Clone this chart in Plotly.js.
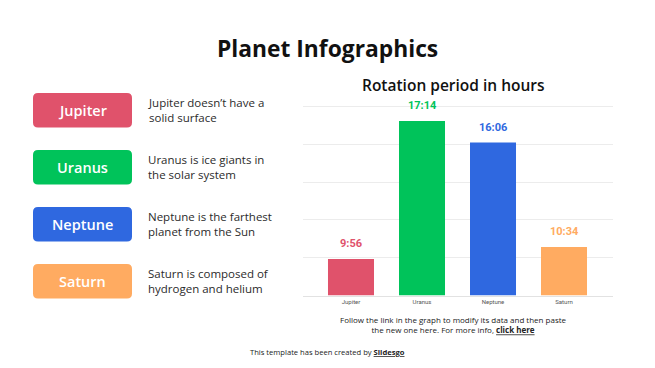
<!DOCTYPE html>
<html>
<head>
<meta charset="utf-8">
<script src="https://cdn.plot.ly/plotly-3.0.1.min.js"></script>
<style>html,body{margin:0;padding:0;background:#fff;}#chart{width:655px;height:368px;}</style>
</head>
<body>
<div id="chart"></div>
<script>
// ---- data ----
const planets = ["Jupiter", "Uranus", "Neptune", "Saturn"];
const rotationHours = [9 + 56/60, 17 + 14/60, 16 + 6/60, 10 + 34/60];
const rotationLabels = ["9:56", "17:14", "16:06", "10:34"];
const descriptions = [
  "Jupiter doesn’t have a<br>solid surface",
  "Uranus is ice giants in<br>the solar system",
  "Neptune is the farthest<br>planet from the Sun",
  "Saturn is composed of<br>hydrogen and helium"
];
const mainTitle = "Planet Infographics";
const chartTitle = "Rotation period in hours";
const axisMin = 8, axisMax = 18, axisStep = 2;

// ---- style ----
const colors = ["#e0526b", "#00c35a", "#2f68e0", "#ffab61"];
const W = 655, H = 368;
const FONT = "Open Sans";
const px = x => x / W;
const py = y => 1 - y / H;
const pxPerUnit = 18.9, axisPad = 0.3, baseY = 295.5;

function roundRect(x0, y0, x1, y1, r) {
  const rx = r / W, ry = r / H;
  const X0 = px(x0), X1 = px(x1), Y0 = py(y0), Y1 = py(y1);
  return `M${X0+rx},${Y0} L${X1-rx},${Y0} Q${X1},${Y0} ${X1},${Y0-ry} ` +
         `L${X1},${Y1+ry} Q${X1},${Y1} ${X1-rx},${Y1} L${X0+rx},${Y1} ` +
         `Q${X0},${Y1} ${X0},${Y1+ry} L${X0},${Y0-ry} Q${X0},${Y0} ${X0+rx},${Y0} Z`;
}

const shapes = [];
const annotations = [];

// left panel
planets.forEach((p, i) => {
  const top = 93 + i * 57, bot = top + 34.5, mid = (top + bot) / 2;
  shapes.push({type: "path", xref: "paper", yref: "paper", path: roundRect(33, top, 132, bot, 5),
    fillcolor: colors[i], line: {width: 0}});
  annotations.push({xref: "paper", yref: "paper", x: px(82.5), y: py(mid),
    text: p, showarrow: false, xanchor: "center", yanchor: "middle",
    font: {family: FONT, size: 14.5, color: "#ffffff", weight: 600}});
  annotations.push({xref: "paper", yref: "paper", x: px(146), y: py(mid),
    text: descriptions[i], showarrow: false, xanchor: "left", yanchor: "middle", align: "left",
    font: {family: FONT, size: 11.5, color: "#2b2b2b"}});
});

// titles
annotations.push({xref: "paper", yref: "paper", x: px(327.5), y: py(49), text: "<b>" + mainTitle + "</b>",
  showarrow: false, xanchor: "center", yanchor: "middle", font: {family: FONT, size: 22.8, color: "#111"}});
annotations.push({xref: "paper", yref: "paper", x: px(453.5), y: py(85), text: chartTitle,
  showarrow: false, xanchor: "center", yanchor: "middle", font: {family: FONT, size: 15.5, color: "#111", weight: 600}});

// bar value labels
planets.forEach((p, i) => {
  annotations.push({xref: "x", yref: "y", x: p, y: rotationHours[i], yshift: 15,
    text: "<b>" + rotationLabels[i] + "</b>", showarrow: false, yanchor: "middle",
    font: {family: "Roboto", size: 11, color: colors[i]}});
});

// footer notes
annotations.push({xref: "paper", yref: "paper", x: px(453.5), y: py(324.5),
  text: "Follow the link in the graph to modify its data and then paste<br>the new one here. For more info, <b><u>click here</u></b>",
  showarrow: false, xanchor: "center", yanchor: "middle", align: "center",
  font: {family: FONT, size: 8, color: "#222"}});
annotations.push({xref: "paper", yref: "paper", x: px(327.5), y: py(352),
  text: "This template has been created by <b><u>Slidesgo</u></b>",
  showarrow: false, xanchor: "center", yanchor: "middle",
  font: {family: FONT, size: 7.6, color: "#222"}});

const trace = {
  type: "bar", x: planets, y: rotationHours.map(v => v - axisMin), base: axisMin,
  marker: {color: colors, line: {width: 0}},
  hoverinfo: "skip"
};

const layout = {
  width: W, height: H,
  margin: {l: 0, r: 0, t: 0, b: 0},
  paper_bgcolor: "#fff", plot_bgcolor: "#fff",
  showlegend: false,
  bargap: 0.352,
  xaxis: {domain: [px(303), px(613)], range: [-0.676, 3.69], showgrid: false,
    showline: true, linecolor: "#e2e2e2", linewidth: 1, ticks: "", ticklen: 0,
    tickfont: {family: "Roboto", size: 6, color: "#555"}, fixedrange: true},
  yaxis: {domain: [py(baseY), py(baseY - (axisMax - axisMin + axisPad) * pxPerUnit)],
    range: [axisMin, axisMax + axisPad], dtick: axisStep, tick0: axisMin,
    showgrid: true, gridcolor: "#ececec", gridwidth: 1, zeroline: false,
    showticklabels: false, ticks: "", fixedrange: true},
  shapes: shapes,
  annotations: annotations
};

Plotly.newPlot("chart", [trace], layout, {displayModeBar: false, staticPlot: true});
</script>
</body>
</html>
